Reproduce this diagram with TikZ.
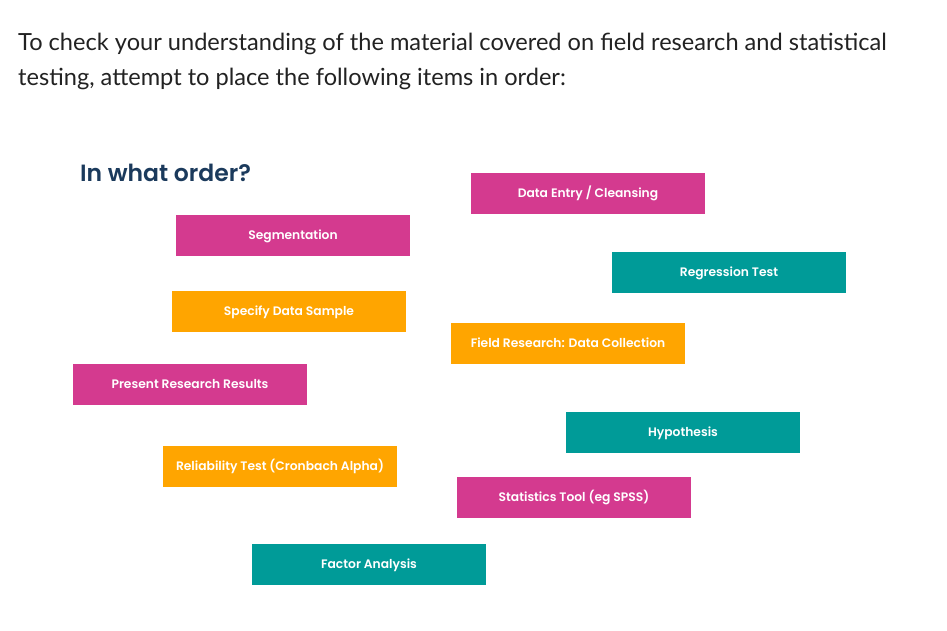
\documentclass[tikz,border=0pt]{standalone}
\usepackage{fontspec}
\setmainfont{Lato}
\newfontfamily\boxfont{Poppins SemiBold}
\definecolor{mag}{HTML}{D43A8F}
\definecolor{teal2}{HTML}{009B98}
\definecolor{orng}{HTML}{FFA500}
\definecolor{navy}{HTML}{1B3A5C}
\definecolor{txt}{HTML}{222222}
\tikzset{
  card/.style={minimum width=234pt,minimum height=41pt,inner sep=0pt,text=white,
    text height=8.6pt,text depth=0pt,
    font=\boxfont\fontsize{12.3}{14}\selectfont},
  magcard/.style={card,fill=mag},
  tealcard/.style={card,fill=teal2},
  orngcard/.style={card,fill=orng},
  intro/.style={anchor=base west,inner sep=0pt,text=txt,font=\fontsize{23.6}{28}\selectfont}
}
\begin{document}
\begin{tikzpicture}[x=1pt,y=-1pt]
\useasboundingbox[fill=white] (0,0) rectangle (947,631);
\node[intro] (l1) at (18,51) {To check your understanding of the material covered on field research and statistical};
\node[intro] (l2) at (18,86) {testing, at{}tempt to place the following items in order:};
\node[anchor=base west,inner sep=0pt,text=navy,font=\boxfont\fontsize{23.5}{27}\selectfont] (title) at (80,182) {In what order?};
\node[magcard] (de) at (588,193.5) {Data Entry / Cleansing};
\node[magcard] (seg) at (293,235.5) {Segmentation};
\node[tealcard] (reg) at (729,272.5) {Regression Test};
\node[orngcard] (spec) at (289,311.5) {Specify Data Sample};
\node[orngcard] (field) at (568,343) {Field Research: Data Collection};
\node[magcard] (pres) at (190,384.5) {Present Research Results};
\node[tealcard] (hyp) at (683,432) {Hypothesis};
\node[orngcard] (rel) at (280,466) {Reliability Test (Cronbach Alpha)};
\node[magcard] (stat) at (574,497.5) {Statistics Tool (eg SPSS)};
\node[tealcard] (fac) at (369,564.5) {Factor Analysis};
\end{tikzpicture}
\end{document}
